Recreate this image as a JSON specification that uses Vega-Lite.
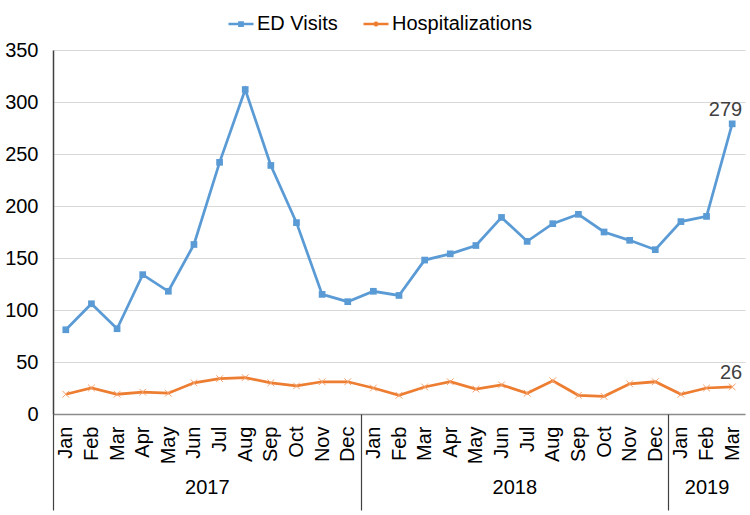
{
  "$schema": "https://vega.github.io/schema/vega-lite/v6.json",
  "width": 692,
  "height": 364,
  "autosize": "none",
  "padding": {"left": 53, "top": 50, "right": 5, "bottom": 101},
  "config": {
    "font": "Liberation Sans",
    "view": {"stroke": null},
    "axis": {"labelFont": "Liberation Sans", "labelColor": "#000000", "labelFontSize": 20, "title": null}
  },
  "datasets": {
    "monthly": [
      {"period": "2017-Jan", "series": "ED Visits", "count": 81},
      {"period": "2017-Feb", "series": "ED Visits", "count": 106},
      {"period": "2017-Mar", "series": "ED Visits", "count": 82},
      {"period": "2017-Apr", "series": "ED Visits", "count": 134},
      {"period": "2017-May", "series": "ED Visits", "count": 118},
      {"period": "2017-Jun", "series": "ED Visits", "count": 163},
      {"period": "2017-Jul", "series": "ED Visits", "count": 242},
      {"period": "2017-Aug", "series": "ED Visits", "count": 312},
      {"period": "2017-Sep", "series": "ED Visits", "count": 239},
      {"period": "2017-Oct", "series": "ED Visits", "count": 184},
      {"period": "2017-Nov", "series": "ED Visits", "count": 115},
      {"period": "2017-Dec", "series": "ED Visits", "count": 108},
      {"period": "2018-Jan", "series": "ED Visits", "count": 118},
      {"period": "2018-Feb", "series": "ED Visits", "count": 114},
      {"period": "2018-Mar", "series": "ED Visits", "count": 148},
      {"period": "2018-Apr", "series": "ED Visits", "count": 154},
      {"period": "2018-May", "series": "ED Visits", "count": 162},
      {"period": "2018-Jun", "series": "ED Visits", "count": 189},
      {"period": "2018-Jul", "series": "ED Visits", "count": 166},
      {"period": "2018-Aug", "series": "ED Visits", "count": 183},
      {"period": "2018-Sep", "series": "ED Visits", "count": 192},
      {"period": "2018-Oct", "series": "ED Visits", "count": 175},
      {"period": "2018-Nov", "series": "ED Visits", "count": 167},
      {"period": "2018-Dec", "series": "ED Visits", "count": 158},
      {"period": "2019-Jan", "series": "ED Visits", "count": 185},
      {"period": "2019-Feb", "series": "ED Visits", "count": 190},
      {"period": "2019-Mar", "series": "ED Visits", "count": 279},
      {"period": "2017-Jan", "series": "Hospitalizations", "count": 19},
      {"period": "2017-Feb", "series": "Hospitalizations", "count": 25},
      {"period": "2017-Mar", "series": "Hospitalizations", "count": 19},
      {"period": "2017-Apr", "series": "Hospitalizations", "count": 21},
      {"period": "2017-May", "series": "Hospitalizations", "count": 20},
      {"period": "2017-Jun", "series": "Hospitalizations", "count": 30},
      {"period": "2017-Jul", "series": "Hospitalizations", "count": 34},
      {"period": "2017-Aug", "series": "Hospitalizations", "count": 35},
      {"period": "2017-Sep", "series": "Hospitalizations", "count": 30},
      {"period": "2017-Oct", "series": "Hospitalizations", "count": 27},
      {"period": "2017-Nov", "series": "Hospitalizations", "count": 31},
      {"period": "2017-Dec", "series": "Hospitalizations", "count": 31},
      {"period": "2018-Jan", "series": "Hospitalizations", "count": 25},
      {"period": "2018-Feb", "series": "Hospitalizations", "count": 18},
      {"period": "2018-Mar", "series": "Hospitalizations", "count": 26},
      {"period": "2018-Apr", "series": "Hospitalizations", "count": 31},
      {"period": "2018-May", "series": "Hospitalizations", "count": 24},
      {"period": "2018-Jun", "series": "Hospitalizations", "count": 28},
      {"period": "2018-Jul", "series": "Hospitalizations", "count": 20},
      {"period": "2018-Aug", "series": "Hospitalizations", "count": 32},
      {"period": "2018-Sep", "series": "Hospitalizations", "count": 18},
      {"period": "2018-Oct", "series": "Hospitalizations", "count": 17},
      {"period": "2018-Nov", "series": "Hospitalizations", "count": 29},
      {"period": "2018-Dec", "series": "Hospitalizations", "count": 31},
      {"period": "2019-Jan", "series": "Hospitalizations", "count": 19},
      {"period": "2019-Feb", "series": "Hospitalizations", "count": 25},
      {"period": "2019-Mar", "series": "Hospitalizations", "count": 26}
    ],
    "years": [
      {"year": "2017", "start": 0, "end": 12},
      {"year": "2018", "start": 12, "end": 24},
      {"year": "2019", "start": 24, "end": 27}
    ]
  },
  "layer": [
    {
      "data": {"name": "monthly"},
      "encoding": {
        "x": {
          "field": "period",
          "type": "ordinal",
          "sort": null,
          "scale": {"type": "point", "padding": 0.5},
          "axis": {
            "orient": "bottom",
            "labelAngle": 270,
            "labelExpr": "slice(datum.label, 5)",
            "labelPadding": 12,
            "ticks": false,
            "grid": false,
            "domainColor": "#8c8c8c",
            "domainWidth": 1.5
          }
        },
        "y": {
          "field": "count",
          "type": "quantitative",
          "scale": {"domain": [0, 350], "nice": false},
          "axis": {
            "values": [0, 50, 100, 150, 200, 250, 300, 350],
            "ticks": false,
            "labelPadding": 15,
            "domainColor": "#404040",
            "domainWidth": 1.5,
            "gridColor": "#d9d9d9",
            "gridWidth": 1.2
          }
        }
      },
      "layer": [
        {
          "mark": {"type": "line", "strokeWidth": 2.75},
          "encoding": {
            "color": {
              "field": "series",
              "type": "nominal",
              "scale": {"domain": ["ED Visits", "Hospitalizations"], "range": ["#5B9BD5", "#ED7D31"]},
              "legend": {
                "orient": "none",
                "legendX": 174,
                "legendY": -40,
                "direction": "horizontal",
                "title": null,
                "labelFont": "Liberation Sans",
                "labelFontSize": 20,
                "labelColor": "#000000",
                "symbolSize": 625,
                "symbolStrokeWidth": 2.5,
                "labelOffset": 2,
                "columnPadding": 20,
                "encode": {
                  "symbols": {
                    "update": {
                      "shape": {"signal": "datum.value === 'ED Visits' ? 'M-1,0L1,0M-0.13,-0.13L0.13,-0.13L0.13,0.13L-0.13,0.13Z' : 'M-1,0L1,0M-0.14,-0.14L0.14,0.14M-0.14,0.14L0.14,-0.14'"},
                      "fill": {"signal": "datum.value === 'ED Visits' ? '#5B9BD5' : 'transparent'"}
                    }
                  }
                }
              }
            }
          }
        },
        {
          "transform": [{"filter": "datum.series === 'ED Visits'"}],
          "mark": {"type": "point", "shape": "square", "filled": true, "size": 45, "color": "#5B9BD5", "opacity": 1}
        },
        {
          "transform": [{"filter": "datum.series === 'Hospitalizations'"}],
          "mark": {"type": "point", "shape": "M-1,-1L1,1M-1,1L1,-1", "filled": false, "size": 45, "strokeWidth": 1, "color": "#F4A06A", "opacity": 1}
        },
        {
          "transform": [{"filter": "datum.period === '2019-Mar'"}],
          "mark": {"type": "text", "align": "right", "baseline": "middle", "dx": 10, "dy": -14, "fontSize": 20, "font": "Liberation Sans", "color": "#404040"},
          "encoding": {"text": {"field": "count", "type": "quantitative"}}
        }
      ]
    },
    {
      "data": {"name": "years"},
      "mark": {"type": "rule", "opacity": 0},
      "encoding": {
        "x": {
          "field": "start",
          "type": "quantitative",
          "scale": {"domain": [0, 27], "nice": false, "zero": false},
          "axis": {
            "orient": "bottom",
            "values": [0, 12, 24],
            "labels": false,
            "domain": false,
            "grid": false,
            "ticks": true,
            "tickSize": 96,
            "tickColor": "#404040",
            "tickWidth": 1.2
          }
        }
      }
    },
    {
      "data": {"name": "years"},
      "mark": {"type": "rule", "opacity": 0},
      "encoding": {
        "x": {
          "field": "end",
          "type": "quantitative",
          "scale": {"domain": [0, 27], "nice": false, "zero": false},
          "axis": {
            "orient": "bottom",
            "values": [6, 18, 25.5],
            "labelExpr": "datum.value == 6 ? '2017' : datum.value == 18 ? '2018' : '2019'",
            "labelPadding": 63,
            "labelFontSize": 20,
            "domain": false,
            "grid": false,
            "ticks": false
          }
        }
      }
    }
  ],
  "resolve": {"scale": {"x": "independent"}, "axis": {"x": "independent"}}
}
